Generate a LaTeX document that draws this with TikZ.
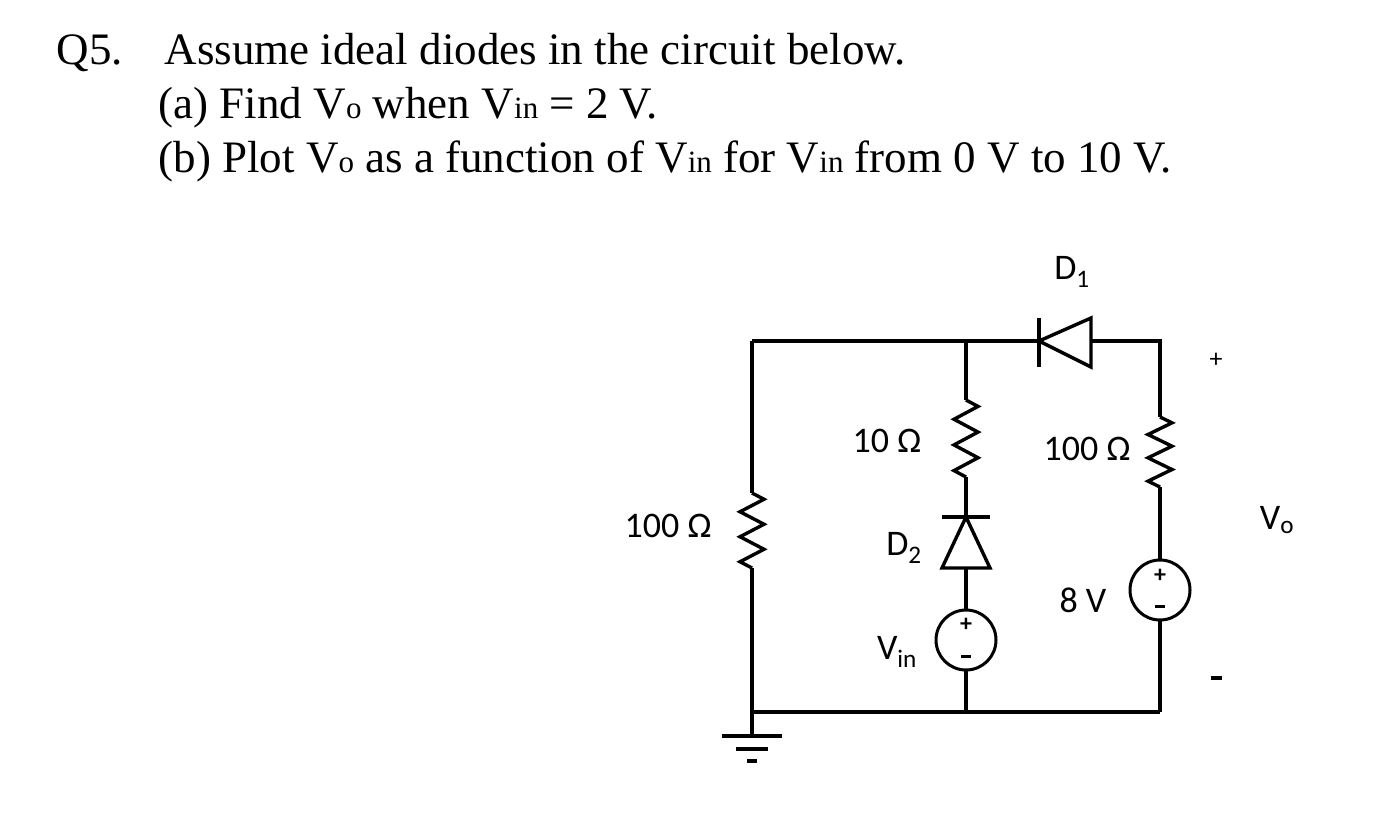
\documentclass[tikz,border=0pt]{standalone}
\usepackage{fontspec}
\setmainfont{Liberation Serif}
\newfontfamily\calfont{Carlito}
\begin{document}
\begin{tikzpicture}[x=1pt,y=-1pt,line width=3.4pt,
  lbl/.style={font=\calfont\fontsize{36}{38}\selectfont,inner sep=0},
  ttl/.style={font=\fontsize{45}{50}\selectfont,anchor=base west,inner sep=0}]
\useasboundingbox (0,0) rectangle (1393,823);
\newcommand\resv[3]{%
  \draw (#1,#2) -- ({#1+12},{#2+(#3-#2)/12}) -- ({#1-12},{#2+3*(#3-#2)/12}) -- ({#1+12},{#2+5*(#3-#2)/12}) -- ({#1-12},{#2+7*(#3-#2)/12}) -- ({#1+12},{#2+9*(#3-#2)/12}) -- ({#1-12},{#2+11*(#3-#2)/12}) -- (#1,#3);}
\newcommand\sub[1]{{\fontsize{31}{33}\selectfont #1}}
% title
\node[ttl] (q) at (55,64) {Q5.};
\node[ttl] (q2) at (163,64) {Assume ideal diodes in the circuit below.};
\node[ttl] (a) at (157,118) {(a) Find V\sub{o} when V\sub{in} = 2 V.};
\node[ttl] (b) at (157,172) {(b) Plot V\sub{o} as a function of V\sub{in} for V\sub{in} from 0 V to 10 V.};
% coordinates
\coordinate (tl) at (752,341); \coordinate (tm) at (966,341); \coordinate (tr) at (1160,341);
\coordinate (bl) at (752,712); \coordinate (bm) at (966,712); \coordinate (br) at (1160,712);
% wires
\draw (tl) -- (1039,341);
\draw (1091,341) -- (tr) -- (1160,417);
\draw (tl) -- (752,493);
\resv{752}{493}{568}
\draw (752,568) -- (752,736);
\draw (bl) -- (br);
% ground
\draw (722,736) -- (782,736);
\draw (736,749) -- (768,749);
\draw (747,761) -- (757,761);
% middle branch
\draw (tm) -- (966,400);
\resv{966}{400}{477}
\draw (966,477) -- (966,517);
\draw (942,517) -- (990,517);
\draw[line join=miter] (966,517) -- (990,568) -- (942,568) -- cycle;
\draw (966,568) -- (966,610);
\node[draw,circle,minimum size=60pt,inner sep=0,line width=3pt] (vin) at (966,640) {};
\draw (966,670) -- (bm);
\node[lbl,font=\calfont\fontsize{24}{24}\selectfont\bfseries] at (966,625) {+};
\node[lbl] at (966,656) {\rule{10pt}{3pt}};
% D1
\draw (1039,318) -- (1039,367);
\draw[line join=miter] (1039,341) -- (1091,318) -- (1091,367) -- cycle;
% right branch
\resv{1160}{417}{487}
\draw (1160,487) -- (1160,560);
\node[draw,circle,minimum size=60pt,inner sep=0,line width=3pt] (v8) at (1160,590) {};
\draw (1160,620) -- (br);
\node[lbl,font=\calfont\fontsize{24}{24}\selectfont\bfseries] at (1160,576) {+};
\node[lbl] at (1160,606) {\rule{10pt}{3pt}};
% labels
\node[lbl] (d1) at (1072,272) {D\textsubscript{1}};
\node[lbl] (r10) at (887,441) {10 Ω};
\node[lbl] (r100r) at (1087,449) {100 Ω};
\node[lbl] (r100l) at (668,526) {100 Ω};
\node[lbl] (d2) at (904,548) {D\textsubscript{2}};
\node[lbl] (v8l) at (1083,600) {8 V};
\node[lbl] (vinl) at (897,652) {V\textsubscript{in}};
\node[lbl] (vo) at (1277,520) {V\textsubscript{o}};
\node[lbl,font=\calfont\fontsize{26}{26}\selectfont] (pl) at (1216,360) {+};
\node[lbl] (mi) at (1216,678) {\rule{11pt}{3.5pt}};
\end{tikzpicture}
\end{document}
